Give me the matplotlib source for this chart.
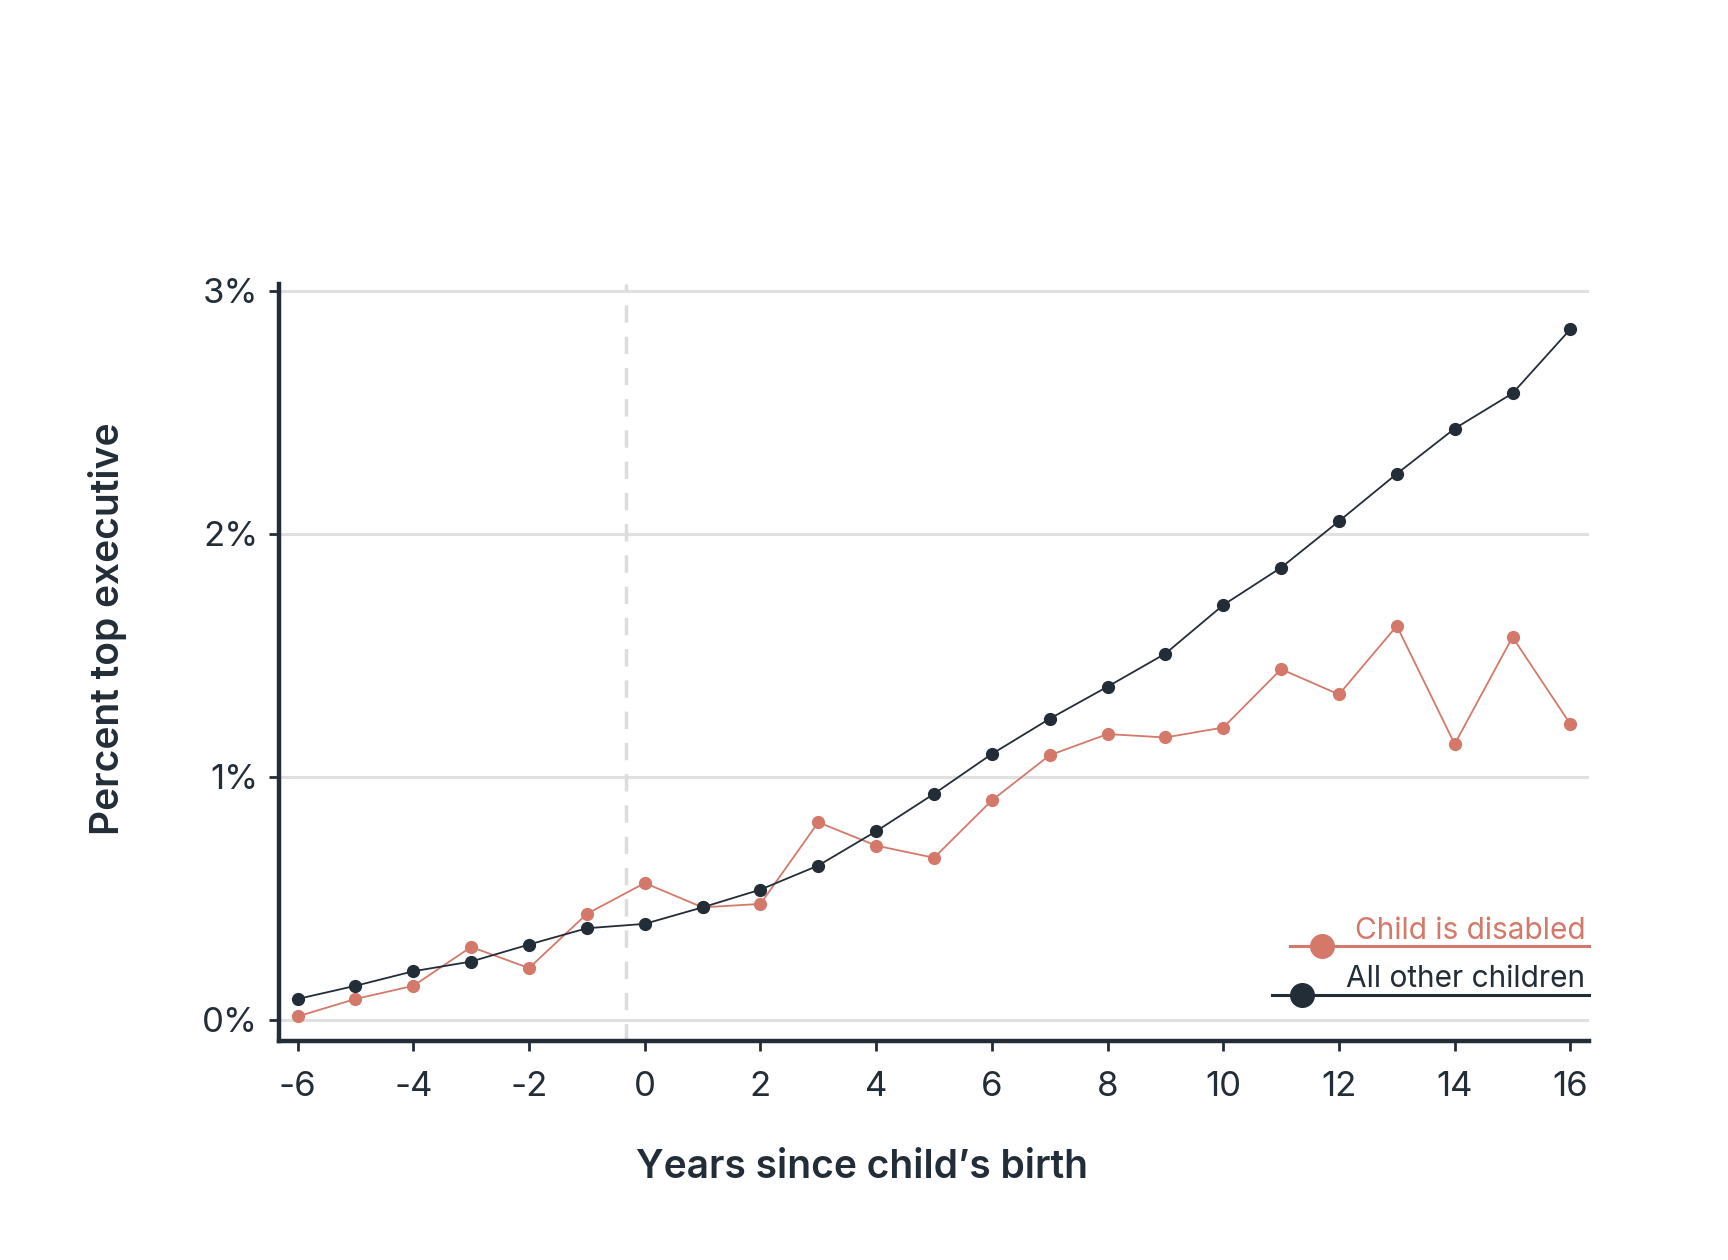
import matplotlib
matplotlib.use("Agg")
from matplotlib import pyplot as plt
import numpy as np

plt.rcParams['font.family'] = ['Inter', 'DejaVu Sans']

years = list(range(-6, 17))
other_children = [0.086, 0.14, 0.20, 0.24, 0.31, 0.377, 0.395, 0.463, 0.536, 0.635, 0.776, 0.93,
                  1.094, 1.239, 1.371, 1.507, 1.707, 1.861, 2.052, 2.247, 2.433, 2.578, 2.842]
child_disabled = [0.014, 0.086, 0.14, 0.30, 0.213, 0.436, 0.563, 0.463, 0.477, 0.813, 0.717, 0.667,
                  0.903, 1.089, 1.176, 1.162, 1.203, 1.443, 1.339, 1.621, 1.135, 1.575, 1.217]
x_ticks = list(range(-6, 17, 2))
y_ticks = [0, 1, 2, 3]
y_labels = ["0%", "1%", "2%", "3%"]

RED = "#d4796a"
DARK = "#232d37"
GRID = "#e0e0e0"

fig = plt.figure(figsize=(17.28, 12.6), dpi=100)
ax = fig.add_axes([0.1615, 0.174, 0.9195 - 0.1615, 0.775 - 0.174])

for y in y_ticks:
    ax.axhline(y, color=GRID, linewidth=2.2, zorder=0)
ax.axvline(-0.33, color="#dcdcdc", linewidth=2.5, linestyle=(0, (5, 4)), zorder=0)

ax.plot(years, child_disabled, color=RED, linewidth=1.3, marker="o", markersize=8.5, zorder=3)
ax.plot(years, other_children, color=DARK, linewidth=1.3, marker="o", markersize=8.5, zorder=4)

ax.set_xlim(-6.32, 16.32)
ax.set_ylim(-0.086, 3.03)
ax.set_xticks(x_ticks)
ax.set_xticklabels([str(t) for t in x_ticks])
ax.set_yticks(y_ticks)
ax.set_yticklabels(y_labels)

for s in ["top", "right"]:
    ax.spines[s].set_visible(False)
for s in ["left", "bottom"]:
    ax.spines[s].set_color(DARK)
    ax.spines[s].set_linewidth(3.2)

ax.tick_params(axis="both", colors=DARK, labelsize=25, length=7, width=2)
ax.tick_params(axis="x", pad=15)
ax.tick_params(axis="y", pad=8)

# axis titles placed where the reference has them
ax.text(0.445, -0.167, "Years since child\u2019s birth", transform=ax.transAxes, ha="center", va="center",
        fontsize=28, fontweight="semibold", color=DARK)
ax.text(-0.131, 0.544, "Percent top executive", transform=ax.transAxes, ha="center", va="center",
        rotation=90, fontsize=28, fontweight="semibold", color=DARK)

# custom legend in axes coordinates
ax.plot([0.772, 1.0], [0.125, 0.125], transform=ax.transAxes, color=RED, linewidth=2.2, clip_on=False)
ax.plot([0.796], [0.125], transform=ax.transAxes, color=RED, marker="o", markersize=17, clip_on=False)
ax.text(0.9975, 0.134, "Child is disabled", transform=ax.transAxes, ha="right", va="baseline",
        fontsize=21.5, color=RED)
ax.plot([0.758, 1.0], [0.061, 0.061], transform=ax.transAxes, color=DARK, linewidth=2.2, clip_on=False)
ax.plot([0.781], [0.061], transform=ax.transAxes, color=DARK, marker="o", markersize=17, clip_on=False)
ax.text(0.9975, 0.071, "All other children", transform=ax.transAxes, ha="right", va="baseline",
        fontsize=21.5, color=DARK)

plt.savefig("out.png", dpi=100, facecolor="white")
